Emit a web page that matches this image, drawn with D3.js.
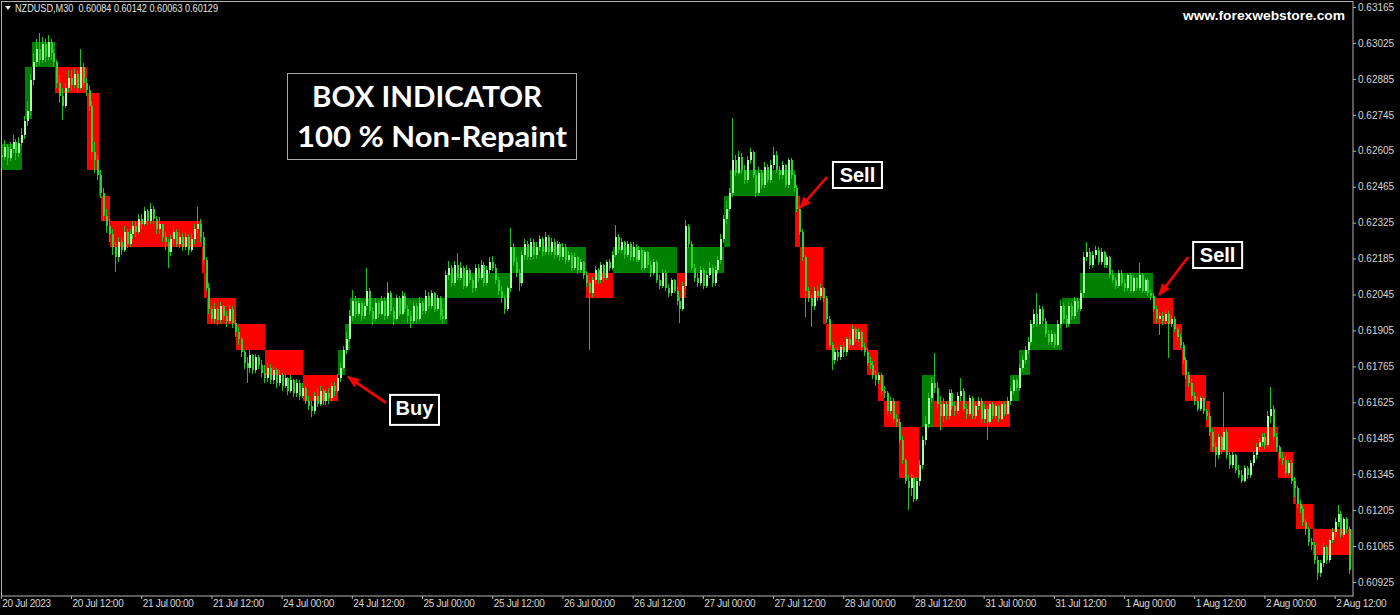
<!DOCTYPE html>
<html lang="en">
<head>

    <meta charset="UTF-8">
    <title>NZDUSD M30 - Box Indicator</title>

    <script src="https://cdn.jsdelivr.net/npm/d3@7"></script>

    <style>
        body {
            margin: 0;
            background-color: #000000;
        }

        #chart {
            width: 1400px;
            height: 615px;
        }

        .axis text {
            font-family: "Liberation Sans", Arial, sans-serif;
            font-size: 10px;
            fill: #d6d6d6;
        }

        .axis line {
            stroke: #b4b4b4;
        }

        .axis path {
            display: none;
        }
    </style>

</head>
<body>

    <div id="chart"></div>

    <script>

        // prices are kept in points (0.00001) above 0.60000, one value per M30 bar
        const basePrice = 0.6;
        const point = 0.00001;
        const firstOpen = 2590;

        const closes = [
            2580, 2620, 2575, 2610, 2640, 2595, 2635, 2665, 2720, 2760, 2880, 2950, 3000, 2960, 3020, 2970, 3030, 2985, 2950, 2870, 2820, 2780, 2850, 2890,
            2860, 2905, 2850, 2930, 2870, 2840, 2780, 2600, 2570, 2510, 2440, 2350, 2310, 2280, 2230, 2190, 2250, 2220, 2290, 2240, 2280, 2310, 2290, 2340,
            2320, 2370, 2330, 2380, 2340, 2300, 2320, 2270, 2250, 2210, 2260, 2290, 2240, 2270, 2230, 2270, 2220, 2260, 2300, 2320, 2270, 2180, 2070, 1990,
            1950, 1990, 1945, 2000, 1960, 1940, 1990, 1935, 1900, 1870, 1820, 1780, 1760, 1810, 1750, 1800, 1770, 1740, 1720, 1760, 1710, 1750, 1700, 1730,
            1690, 1720, 1670, 1710, 1660, 1700, 1650, 1680, 1630, 1610, 1590, 1650, 1620, 1670, 1630, 1660, 1640, 1690, 1670, 1720, 1760, 1830, 1870, 1960,
            2020, 1970, 2010, 1960, 2000, 2060, 1980, 1950, 2010, 1970, 2020, 1960, 2050, 1980, 1950, 2030, 1970, 2040, 1990, 1960, 1940, 2000, 1950, 2010,
            1980, 2040, 2000, 2050, 1990, 2030, 1960, 1950, 2120, 2150, 2090, 2160, 2110, 2150, 2080, 2140, 2100, 2070, 2150, 2110, 2160, 2090, 2140, 2170,
            2150, 2100, 2060, 2030, 1990, 2070, 2230, 2170, 2130, 2090, 2200, 2240, 2190, 2250, 2200, 2230, 2260, 2210, 2270, 2210, 2250, 2200, 2240, 2190,
            2230, 2180, 2200, 2150, 2190, 2140, 2170, 2120, 2090, 2050, 2100, 2140, 2100, 2160, 2110, 2170, 2150, 2200, 2270, 2220, 2250, 2200, 2240, 2190,
            2230, 2180, 2220, 2150, 2210, 2160, 2130, 2170, 2100, 2080, 2130, 2070, 2050, 2100, 2060, 2020, 1990, 2080, 2310, 2240, 2150, 2110, 2090, 2140,
            2080, 2120, 2150, 2090, 2140, 2180, 2260, 2340, 2380, 2440, 2570, 2520, 2580, 2530, 2490, 2570, 2600, 2510, 2440, 2520, 2470, 2540, 2490, 2550,
            2590, 2530, 2510, 2550, 2470, 2570, 2510, 2460, 2380, 2290, 2190, 2060, 2030, 2000, 2060, 2040, 2070, 2030, 1950, 1850, 1790, 1820, 1800, 1840,
            1820, 1870, 1850, 1910, 1870, 1900, 1840, 1820, 1780, 1770, 1730, 1710, 1730, 1670, 1660, 1590, 1630, 1560, 1550, 1480, 1400, 1320, 1290, 1330,
            1250, 1320, 1380, 1480, 1540, 1640, 1700, 1680, 1620, 1570, 1620, 1570, 1660, 1610, 1590, 1650, 1670, 1600, 1580, 1640, 1570, 1610, 1630, 1560,
            1600, 1550, 1620, 1570, 1610, 1560, 1620, 1580, 1630, 1670, 1710, 1680, 1760, 1790, 1830, 1860, 1930, 1970, 1930, 1990, 1940, 1890, 1860, 1890,
            1850, 1930, 2000, 1950, 1930, 2000, 1960, 2020, 1990, 2050, 2190, 2210, 2160, 2200, 2220, 2170, 2210, 2160, 2190, 2120, 2100, 2080, 2130, 2090,
            2070, 2120, 2060, 2110, 2070, 2120, 2060, 2100, 2050, 2040, 1990, 1950, 1960, 1940, 1970, 1930, 1950, 1910, 1880, 1850, 1790, 1730, 1700, 1650,
            1630, 1600, 1640, 1590, 1570, 1510, 1450, 1420, 1490, 1440, 1510, 1420, 1380, 1420, 1360, 1340, 1320, 1370, 1340, 1390, 1420, 1450, 1470, 1490,
            1460, 1570, 1600, 1490, 1450, 1410, 1400, 1350, 1390, 1320, 1290, 1230, 1210, 1160, 1130, 1080, 1070, 1010, 960, 1000, 1060, 1010, 1090, 1120,
            1160, 1190, 1110, 1170, 1130, 970
        ];

        const highs = [
            2625, 2645, 2630, 2640, 2668, 2650, 2660, 2694, 2740, 2800, 2905, 2985, 3040, 3064, 3050, 3040, 3055, 3040, 3000, 2960, 2900, 2850, 2870, 2920,
            2920, 2925, 2915, 3000, 2945, 2890, 2860, 2800, 2640, 2590, 2530, 2460, 2380, 2340, 2300, 2250, 2270, 2270, 2310, 2300, 2300, 2330, 2330, 2360,
            2360, 2385, 2380, 2401, 2390, 2350, 2345, 2320, 2290, 2260, 2275, 2310, 2300, 2290, 2285, 2290, 2280, 2280, 2320, 2385, 2340, 2290, 2190, 2090,
            2000, 2010, 1995, 2015, 2005, 1980, 2005, 2000, 1950, 1920, 1880, 1830, 1800, 1830, 1815, 1815, 1810, 1790, 1770, 1780, 1775, 1765, 1760, 1750,
            1740, 1735, 1725, 1730, 1715, 1715, 1710, 1700, 1690, 1650, 1630, 1665, 1680, 1690, 1675, 1675, 1680, 1700, 1705, 1735, 1780, 1845, 1900, 1985,
            2063, 2040, 2030, 2020, 2015, 2148, 2070, 1995, 2030, 2025, 2040, 2035, 2094, 2060, 1995, 2045, 2040, 2060, 2050, 2005, 1980, 2015, 2010, 2035,
            2020, 2063, 2055, 2063, 2055, 2045, 2040, 1990, 2135, 2175, 2160, 2175, 2207, 2170, 2155, 2160, 2150, 2115, 2165, 2165, 2180, 2170, 2155, 2190,
            2195, 2165, 2115, 2080, 2045, 2080, 2304, 2245, 2190, 2145, 2215, 2260, 2255, 2265, 2260, 2250, 2275, 2270, 2289, 2275, 2265, 2260, 2255, 2250,
            2245, 2240, 2215, 2210, 2205, 2195, 2185, 2175, 2135, 2100, 2115, 2155, 2150, 2170, 2165, 2180, 2185, 2215, 2316, 2280, 2265, 2255, 2255, 2250,
            2250, 2240, 2235, 2230, 2220, 2215, 2175, 2185, 2180, 2120, 2145, 2140, 2085, 2110, 2105, 2075, 2035, 2095, 2335, 2320, 2255, 2165, 2130, 2155,
            2150, 2135, 2170, 2160, 2155, 2195, 2280, 2355, 2410, 2460, 2733, 2590, 2605, 2595, 2550, 2585, 2615, 2605, 2530, 2540, 2530, 2560, 2555, 2570,
            2620, 2605, 2545, 2565, 2555, 2577, 2575, 2520, 2470, 2390, 2300, 2200, 2075, 2045, 2075, 2080, 2085, 2075, 2040, 1960, 1860, 1835, 1840, 1850,
            1860, 1880, 1885, 1925, 1920, 1915, 1905, 1855, 1835, 1800, 1785, 1750, 1745, 1740, 1690, 1670, 1645, 1640, 1580, 1560, 1495, 1410, 1340, 1345,
            1340, 1335, 1400, 1495, 1570, 1660, 1725, 1817, 1705, 1650, 1640, 1630, 1675, 1675, 1625, 1665, 1720, 1680, 1620, 1655, 1650, 1625, 1645, 1640,
            1620, 1610, 1630, 1625, 1620, 1615, 1630, 1630, 1645, 1685, 1725, 1720, 1775, 1810, 1845, 1880, 1945, 1990, 2051, 2005, 2000, 1955, 1905, 1905,
            1900, 1945, 2024, 2010, 1965, 2015, 2010, 2035, 2030, 2063, 2210, 2250, 2225, 2215, 2235, 2230, 2225, 2215, 2200, 2195, 2140, 2115, 2140, 2140,
            2105, 2130, 2130, 2120, 2115, 2168, 2130, 2110, 2105, 2065, 2050, 2000, 1975, 1975, 1985, 1980, 1965, 1960, 1920, 1890, 1860, 1800, 1745, 1715,
            1665, 1645, 1650, 1645, 1600, 1585, 1520, 1470, 1500, 1495, 1665, 1520, 1435, 1430, 1425, 1380, 1360, 1380, 1375, 1400, 1435, 1465, 1485, 1505,
            1505, 1590, 1685, 1615, 1505, 1460, 1430, 1415, 1400, 1400, 1335, 1300, 1245, 1220, 1175, 1140, 1095, 1080, 1025, 1010, 1075, 1070, 1100, 1135,
            1175, 1225, 1200, 1180, 1180, 1140
        ];

        const lows = [
            2560, 2570, 2550, 2565, 2595, 2570, 2580, 2625, 2650, 2700, 2740, 2860, 2930, 2940, 2945, 2950, 2960, 2960, 2930, 2850, 2790, 2725, 2770, 2835,
            2840, 2850, 2830, 2840, 2855, 2820, 2760, 2570, 2520, 2490, 2420, 2330, 2285, 2250, 2200, 2133, 2170, 2200, 2210, 2225, 2230, 2260, 2270, 2280,
            2300, 2310, 2315, 2320, 2320, 2280, 2280, 2250, 2220, 2150, 2195, 2240, 2230, 2225, 2215, 2220, 2200, 2210, 2240, 2285, 2250, 2160, 2060, 1970,
            1930, 1935, 1925, 1930, 1945, 1920, 1930, 1915, 1880, 1850, 1800, 1755, 1700, 1740, 1735, 1740, 1755, 1725, 1700, 1705, 1695, 1695, 1680, 1690,
            1670, 1680, 1655, 1660, 1645, 1645, 1635, 1640, 1620, 1595, 1568, 1580, 1605, 1610, 1615, 1615, 1620, 1625, 1650, 1660, 1705, 1750, 1815, 1860,
            1940, 1955, 1960, 1940, 1950, 1985, 1965, 1925, 1940, 1955, 1960, 1945, 1950, 1965, 1925, 1940, 1960, 1965, 1975, 1935, 1915, 1930, 1935, 1940,
            1965, 1970, 1990, 1990, 1975, 1980, 1946, 1930, 1945, 2100, 2075, 2080, 2100, 2100, 2065, 2070, 2090, 2050, 2060, 2095, 2100, 2075, 2080, 2130,
            2135, 2085, 2045, 2010, 1970, 1980, 2055, 2155, 2115, 2060, 2080, 2180, 2180, 2180, 2185, 2185, 2215, 2195, 2200, 2200, 2200, 2185, 2190, 2175,
            2180, 2165, 2170, 2135, 2140, 2125, 2130, 2105, 2075, 1829, 2035, 2085, 2085, 2090, 2095, 2100, 2135, 2140, 2190, 2205, 2205, 2185, 2190, 2175,
            2175, 2170, 2170, 2140, 2140, 2150, 2115, 2120, 2090, 2065, 2070, 2060, 2035, 2040, 2050, 2005, 1934, 1980, 2065, 2225, 2140, 2095, 2075, 2080,
            2065, 2070, 2110, 2075, 2080, 2125, 2165, 2245, 2320, 2370, 2425, 2505, 2510, 2515, 2475, 2480, 2555, 2500, 2425, 2430, 2455, 2460, 2480, 2480,
            2535, 2520, 2490, 2495, 2460, 2460, 2495, 2445, 2365, 2275, 2175, 1957, 2015, 1918, 1985, 2020, 2025, 2015, 1935, 1835, 1751, 1775, 1785, 1790,
            1800, 1805, 1835, 1845, 1860, 1860, 1825, 1805, 1765, 1755, 1715, 1690, 1695, 1655, 1640, 1575, 1580, 1545, 1530, 1465, 1385, 1305, 1206, 1260,
            1235, 1240, 1300, 1365, 1460, 1525, 1625, 1660, 1600, 1517, 1550, 1555, 1560, 1595, 1570, 1580, 1630, 1590, 1560, 1570, 1560, 1560, 1595, 1545,
            1545, 1478, 1540, 1560, 1560, 1550, 1555, 1570, 1575, 1615, 1655, 1670, 1670, 1745, 1775, 1815, 1850, 1915, 1920, 1925, 1930, 1880, 1848, 1850,
            1835, 1840, 1915, 1935, 1915, 1920, 1945, 1950, 1975, 1980, 2035, 2175, 2145, 2150, 2185, 2160, 2160, 2150, 2150, 2110, 2090, 2065, 2070, 2080,
            2055, 2060, 2050, 2050, 2060, 2060, 2050, 2050, 2040, 2025, 1975, 1935, 1887, 1925, 1930, 1797, 1920, 1900, 1865, 1835, 1775, 1715, 1685, 1635,
            1615, 1590, 1590, 1580, 1555, 1495, 1435, 1373, 1405, 1425, 1430, 1405, 1365, 1370, 1350, 1330, 1310, 1315, 1325, 1330, 1375, 1405, 1435, 1455,
            1445, 1450, 1545, 1480, 1430, 1395, 1380, 1335, 1340, 1305, 1256, 1215, 1195, 1145, 1110, 1065, 1050, 995, 933, 945, 985, 995, 1000, 1075,
            1100, 1140, 1095, 1100, 1115, 955
        ];

        // box indicator: [first bar, last bar, low, high (points), direction]
        const boxes = [
            [0, 7.2, 2530, 2630, 'up'],
            [8.3, 10.5, 2730, 2930, 'up'],
            [10.5, 18.5, 2930, 3030, 'up'],
            [18.5, 29.5, 2830, 2930, 'down'],
            [29.5, 33.6, 2530, 2830, 'down'],
            [33.6, 34.3, 2430, 2530, 'down'],
            [34.3, 37.3, 2330, 2430, 'down'],
            [37.3, 68.8, 2230, 2330, 'down'],
            [68.8, 69.8, 2130, 2230, 'down'],
            [69.5, 70.5, 2030, 2130, 'down'],
            [70.5, 80.4, 1930, 2030, 'down'],
            [80.4, 90.3, 1830, 1930, 'down'],
            [90.3, 103.3, 1730, 1830, 'down'],
            [103.3, 115.3, 1630, 1730, 'down'],
            [115.3, 117.7, 1730, 1830, 'up'],
            [117.7, 119.4, 1830, 1930, 'up'],
            [119.4, 152.6, 1930, 2030, 'up'],
            [152.6, 174.1, 2030, 2130, 'up'],
            [174.1, 200.1, 2130, 2230, 'up'],
            [200.1, 209.3, 2030, 2130, 'down'],
            [209.3, 231.2, 2130, 2230, 'up'],
            [231.2, 234.3, 2030, 2130, 'down'],
            [234.3, 247.2, 2130, 2230, 'up'],
            [247.2, 249.3, 2230, 2430, 'up'],
            [249.3, 271.5, 2430, 2530, 'up'],
            [271.5, 273.2, 2230, 2430, 'down'],
            [273.2, 281.1, 2030, 2230, 'down'],
            [281.1, 282.1, 1930, 2030, 'down'],
            [282.1, 296.1, 1830, 1930, 'down'],
            [296.1, 299.9, 1730, 1830, 'down'],
            [299.9, 302, 1630, 1730, 'down'],
            [302, 307.1, 1530, 1630, 'down'],
            [307.1, 314, 1330, 1530, 'down'],
            [314.8, 319.2, 1530, 1730, 'up'],
            [319.2, 345, 1530, 1630, 'down'],
            [345, 348.1, 1630, 1730, 'up'],
            [348.1, 351.9, 1730, 1830, 'up'],
            [351.9, 362.8, 1830, 1930, 'up'],
            [362.8, 369, 1930, 2030, 'up'],
            [369, 393.9, 2030, 2130, 'up'],
            [393.9, 400.7, 1930, 2030, 'down'],
            [400.7, 403.8, 1830, 1930, 'down'],
            [403.8, 404.9, 1730, 1830, 'down'],
            [404.9, 412, 1630, 1730, 'down'],
            [412, 413.4, 1530, 1630, 'down'],
            [413.4, 436.6, 1430, 1530, 'down'],
            [436.6, 441.8, 1330, 1430, 'down'],
            [441.8, 442.8, 1230, 1330, 'down'],
            [442.8, 448.6, 1130, 1230, 'down'],
            [448.6, 462, 1030, 1130, 'down']
        ];

        const priceTicks = [
            0.60925, 0.61065, 0.61205, 0.61345, 0.61485, 0.61625, 0.61765, 0.61905, 0.62045,
            0.62185, 0.62325, 0.62465, 0.62605, 0.62745, 0.62885, 0.63025, 0.63165
        ];

        const timeTicks = [0, 24, 48, 72, 96, 120, 144, 168, 192, 216, 240, 264, 288, 312, 336, 360, 384, 408, 432, 456];
        const timeLabels = [
            '20 Jul 2023', '20 Jul 12:00', '21 Jul 00:00', '21 Jul 12:00', '24 Jul 00:00', '24 Jul 12:00',
            '25 Jul 00:00', '25 Jul 12:00', '26 Jul 00:00', '26 Jul 12:00', '27 Jul 00:00', '27 Jul 12:00',
            '28 Jul 00:00', '28 Jul 12:00', '31 Jul 00:00', '31 Jul 12:00', '1 Aug 00:00', '1 Aug 12:00',
            '2 Aug 00:00', '2 Aug 12:00'
        ];

        const symbolName = 'NZDUSD,M30';
        const lastQuote = ['0.60084', '0.60142', '0.60063', '0.60129'];

        const signalLabels = ['Sell', 'Sell', 'Buy'];
        const signalBars = [273.2, 396, 118.7];
        const signalPrices = [0.62382, 0.62043, 0.61724];

    </script>

    <script>

        const width = 1400;
        const height = 615;
        const barCount = 462;
        const plotRight = 1353;
        const plotBottom = 596;

        const svg = d3.select('#chart')
            .append('svg')
            .attr('width', width)
            .attr('height', height);

        // background
        svg.append('rect')
            .attr('width', width)
            .attr('height', height)
            .attr('fill', '#000000');

        const x = d3.scaleLinear()
            .domain([0, barCount])
            .range([0.8, 1352.2]);

        const y = d3.scaleLinear()
            .domain([0.60925, 0.63165])
            .range([582, 7]);

        const toPrice = (p) => basePrice + p * point;

        // candles
        const n = Math.min(closes.length, highs.length, lows.length);
        const bars = d3.range(n).map((i) => ({
            i: i,
            open: toPrice(i ? closes[i - 1] : firstOpen),
            close: toPrice(closes[i]),
            high: toPrice(highs[i]),
            low: toPrice(lows[i])
        }));

        const plot = svg.append('g');

        // boxes behind the candles
        plot.append('g')
            .attr('shape-rendering', 'crispEdges')
            .selectAll('rect')
            .data(boxes)
            .enter()
            .append('rect')
            .attr('x', (d) => x(d[0]))
            .attr('width', (d) => x(d[1]) - x(d[0]))
            .attr('y', (d) => y(toPrice(d[3])))
            .attr('height', (d) => y(toPrice(d[2])) - y(toPrice(d[3])))
            .attr('fill', (d) => d[4] === 'up' ? '#008000' : '#ff0000');

        const candles = plot.append('g')
            .attr('shape-rendering', 'crispEdges')
            .selectAll('g')
            .data(bars)
            .enter()
            .append('g');

        candles.append('rect')
            .attr('x', (d) => Math.round(x(d.i)))
            .attr('width', 1)
            .attr('y', (d) => y(d.high))
            .attr('height', (d) => Math.max(1, y(d.low) - y(d.high)))
            .attr('fill', '#20c020');

        candles.append('rect')
            .attr('x', (d) => Math.round(x(d.i)) - 0.5)
            .attr('width', 2)
            .attr('y', (d) => y(Math.max(d.open, d.close)))
            .attr('height', (d) => Math.max(1, Math.abs(y(d.open) - y(d.close))))
            .attr('fill', (d) => d.close >= d.open ? '#a8ffa8' : '#2ad42a');

        // frame
        svg.append('rect')
            .attr('x', 1.5)
            .attr('y', 1.5)
            .attr('width', plotRight - 1.5)
            .attr('height', plotBottom - 1.5)
            .attr('fill', 'none')
            .attr('stroke', '#b4b4b4')
            .attr('stroke-width', 1);

        // price axis
        svg.append('g')
            .attr('class', 'axis')
            .attr('transform', `translate(${plotRight},0)`)
            .call(d3.axisRight(y)
                .tickValues(priceTicks)
                .tickFormat(d3.format('.5f'))
                .tickSize(3)
                .tickPadding(2));

        // time axis
        const xAxis = svg.append('g')
            .attr('class', 'axis')
            .attr('transform', `translate(0,${plotBottom})`)
            .call(d3.axisBottom(x)
                .tickValues(timeTicks)
                .tickFormat((d, i) => timeLabels[i])
                .tickSize(3)
                .tickPadding(1));

        xAxis.selectAll('text')
            .attr('text-anchor', 'start')
            .attr('dx', 1)
            .style('letter-spacing', '-0.3px');

        // header
        svg.append('path')
            .attr('d', 'M5,6 L11,6 L8,10 Z')
            .attr('fill', '#e6e6e6');

        svg.append('text')
            .attr('x', 15)
            .attr('y', 12)
            .style('white-space', 'pre')
            .attr('font-family', '"Liberation Sans", Arial, sans-serif')
            .attr('font-size', 10)
            .attr('fill', '#e6e6e6')
            .attr('textLength', 203)
            .attr('lengthAdjust', 'spacingAndGlyphs')
            .text(symbolName + '  ' + lastQuote.join(' '));

        // watermark
        svg.append('text')
            .attr('x', 1183)
            .attr('y', 19.5)
            .attr('font-family', '"Liberation Sans", Arial, sans-serif')
            .attr('font-size', 13.5)
            .attr('font-weight', 'bold')
            .attr('fill', '#ffffff')
            .attr('textLength', 162)
            .attr('lengthAdjust', 'spacingAndGlyphs')
            .text('www.forexwebstore.com');

        // title box
        svg.append('rect')
            .attr('x', 287.5)
            .attr('y', 73.5)
            .attr('width', 289)
            .attr('height', 86)
            .attr('fill', '#000000')
            .attr('stroke', '#a8a8a8');

        const titleLines = [
            { text: 'BOX INDICATOR', x: 312, y: 107, w: 230 },
            { text: '100 % Non-Repaint', x: 297, y: 147, w: 270 }
        ];

        svg.selectAll('.title')
            .data(titleLines)
            .enter()
            .append('text')
            .attr('class', 'title')
            .attr('x', (d) => d.x)
            .attr('y', (d) => d.y)
            .attr('font-family', 'Lato, "Open Sans", sans-serif')
            .attr('font-weight', 'bold')
            .attr('font-size', 29)
            .attr('fill', '#ffffff')
            .attr('textLength', (d) => d.w)
            .attr('lengthAdjust', 'spacingAndGlyphs')
            .text((d) => d.text);

        // signal call-outs
        svg.append('defs')
            .append('marker')
            .attr('id', 'head')
            .attr('viewBox', '0 0 12 10')
            .attr('refX', 11)
            .attr('refY', 5)
            .attr('markerWidth', 13)
            .attr('markerHeight', 10)
            .attr('markerUnits', 'userSpaceOnUse')
            .attr('orient', 'auto')
            .append('path')
            .attr('d', 'M0,0 L12,5 L0,10 Z')
            .attr('fill', '#ff0000');

        // pixel offsets of arrow tail and label box from the arrow tip
        const calloutLayout = [
            { tx: 27, ty: -31, bx: 33, by: -46, bw: 49, bh: 26 },
            { tx: 29, ty: -38, bx: 34, by: -53, bw: 49, bh: 26 },
            { tx: 38, ty: 26, bx: 42, by: 18, bw: 49, bh: 30 }
        ];

        signalLabels.forEach((label, i) => {
            const px = x(signalBars[i]);
            const py = y(signalPrices[i]);
            const l = calloutLayout[i];
            const g = svg.append('g');

            g.append('line')
                .attr('x1', px + l.tx)
                .attr('y1', py + l.ty)
                .attr('x2', px)
                .attr('y2', py)
                .attr('stroke', '#ff0000')
                .attr('stroke-width', 2.5)
                .attr('marker-end', 'url(#head)');

            g.append('rect')
                .attr('x', px + l.bx)
                .attr('y', py + l.by)
                .attr('width', l.bw)
                .attr('height', l.bh)
                .attr('fill', '#000000')
                .attr('stroke', '#ffffff')
                .attr('stroke-width', 2);

            g.append('text')
                .attr('x', px + l.bx + l.bw / 2)
                .attr('y', py + l.by + 20)
                .attr('text-anchor', 'middle')
                .attr('font-family', '"Liberation Sans", Arial, sans-serif')
                .attr('font-weight', 'bold')
                .attr('font-size', 20)
                .attr('fill', '#ffffff')
                .text(label);
        });

    </script>

</body>
</html>
